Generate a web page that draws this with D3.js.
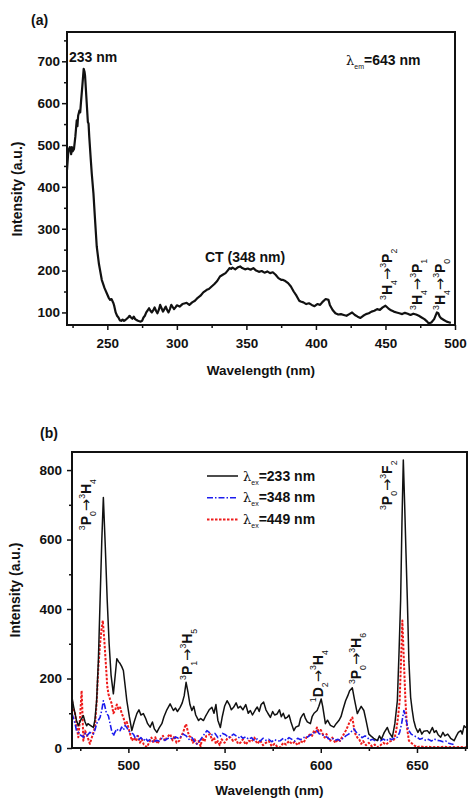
<!DOCTYPE html>
<html>
<head>
<meta charset="utf-8">
<script src="https://cdn.jsdelivr.net/npm/d3@7"></script>
<style>
  body { margin: 0; background: #fff; }
  svg text { font-family: "Liberation Sans", Arial, sans-serif; font-weight: bold; fill: #111; }
</style>
</head>
<body>
<script>
// (a) excitation spectrum, lambda_em = 643 nm : [wavelength, intensity]
let excitation = [[221,440],[222,487],[223,495],[224,478],[224.5,495],[225,485],[226,490],[227,520],[228,559],[228.5,545],[229,570],[230,583],[230.5,578],[231,600],[232,640],[233,682],[233.6,675],[234,665],[235,610],[236,555],[236.5,551],[237,520],[238,470],[238.8,432],[240,385],[241,330],[242.4,257],[244,215],[246,178],[248,158],[249.6,146],[251,135],[252,130],[253,132],[254.4,122],[255,115],[256,100],[257,92],[258,88],[259,81],[260,80],[261,83],[262,80],[263,82],[264,85],[265,88],[266,92],[267,88],[268,85],[269,90],[270,84],[271,82],[272,80],[273,79],[274,78],[275,80],[276,88],[277,92],[278,100],[279,105],[280,110],[281,104],[282,100],[283,105],[284,112],[285,104],[286,98],[287,106],[288,118],[289,110],[290,102],[291,108],[292,114],[293,106],[294,100],[295,108],[296,118],[297,113],[298,108],[299,112],[300,117],[302,114],[304,120],[306,122],[307,123],[309,118],[311,124],[313,128],[315,135],[317,140],[319,148],[321.5,154],[323,156],[325,162],[327,168],[329,175],[331,186],[333,190],[335,194],[336.5,200],[338,206],[339,204],[340,207],[342,203],[344,208],[345.5,210],[347,206],[349,203],[351,205],[353,202],[355,206],[357,200],[359,197],[361,199],[363,195],[365,198],[367,194],[369,196],[371,190],[373,182],[375,178],[376,178],[378,175],[380,170],[382,162],[384,150],[386,140],[388,128],[389,126],[391,124],[393,120],[395,122],[397,118],[399,115],[401,120],[403,118],[405,126],[407,132],[409,130],[410,118],[412,106],[414,98],[416,95],[418,96],[420,94],[422,92],[424,96],[426,100],[428,94],[430,90],[432,87],[434,92],[436,96],[438,98],[440,102],[442,104],[444,108],[446,106],[448,112],[450,116],[452,110],[454,105],[456,102],[458,100],[460,98],[462,96],[464,99],[466,97],[468,94],[470,97],[472,95],[474,92],[476,88],[478,84],[480,78],[481,74],[483,76],[485,84],[487,100],[488,98],[489,90],[490,86],[492,82],[494,78],[496,76],[497,75]];

// (b) emission spectra for three excitation wavelengths
let emission233 = [[470.7,146],[471.5,120],[472.3,99],[473,80],[474,64],[475,78],[476.6,93],[477.5,75],[478.3,64],[479,70],[480,66],[481,62],[481.8,59],[482.6,80],[483.5,136],[484.4,250],[485.3,425],[486.2,600],[487,721],[488,580],[489,425],[490,300],[491,210],[492.2,156],[493,200],[494,257],[495,248],[495.7,243],[496.5,235],[497.4,223],[498.3,180],[499.2,136],[500.5,90],[501.8,50],[503,75],[504.4,99],[505.5,110],[506.5,95],[507.8,99],[509,85],[510,70],[511.3,60],[512.5,75],[513.5,55],[514.8,45],[516,58],[517.4,70],[518.5,90],[520,110],[521.7,127],[522.5,118],[523.4,108],[524.5,115],[525.5,105],[526.9,117],[528,130],[529,150],[530,189],[531,160],[532,125],[533,108],[534,120],[535,95],[536.5,79],[537.5,85],[539,79],[540,90],[541,100],[542,110],[543.4,117],[544.5,100],[545.5,125],[546.5,80],[547.8,59],[548.8,90],[550,120],[551.3,136],[552.5,125],[553.5,110],[554.7,117],[556,130],[557,115],[558.2,120],[559.5,110],[561,125],[562.3,100],[563.4,108],[564.5,95],[566,110],[567,118],[568,105],[569,125],[570.3,132],[571.5,110],[572.5,100],[573.8,88],[575,105],[576,95],[577.3,98],[578.5,110],[579.5,90],[580.5,100],[581.5,85],[582.5,88],[583.5,95],[584.5,75],[586,50],[587,60],[588.6,64],[589.5,85],[590.5,95],[591.2,99],[592,85],[593,75],[594.6,70],[595.5,90],[596.5,100],[598.1,108],[599,120],[600.2,141],[601,120],[602.4,70],[603.5,80],[605,65],[606.8,60],[608,70],[609.4,79],[610.5,90],[611.5,110],[612.9,136],[614,150],[615,165],[616.4,173],[617.5,140],[619,99],[620,110],[621,120],[622.4,108],[623.5,80],[625,40],[626,35],[627.5,28],[629.4,21],[630.5,35],[631.5,25],[633,45],[634.6,59],[635.5,45],[637.2,31],[638.5,70],[639.8,136],[640.7,280],[641.5,425],[642.2,650],[642.9,829],[643.6,700],[644.3,560],[645,425],[645.8,250],[646.7,146],[647.5,110],[648.3,80],[649.3,59],[650.5,45],[651.5,55],[652.5,40],[653.5,48],[655.4,50],[656.5,42],[658,59],[659,45],[660,50],[661,38],[662.3,31],[663.5,45],[664.5,35],[666,40],[667.5,28],[669.3,21],[670.5,35],[671.5,45],[672.8,50],[673.5,40],[674.5,64],[675.5,58]];

let emission348 = [[470.7,99],[471.5,85],[472.3,70],[473,50],[474,45],[475,38],[476.6,31],[477.5,42],[478.5,35],[480,45],[481.8,40],[482.8,55],[483.5,70],[484.4,80],[485.3,88],[486.2,110],[487,136],[487.8,120],[488.6,100],[489.6,93],[490.5,70],[491.3,50],[492.2,35],[493,45],[494,55],[495,48],[495.7,50],[496.5,60],[497.5,52],[498.3,65],[499.2,59],[500,50],[501,45],[502.6,40],[503.5,30],[504.5,35],[505.5,25],[506.5,30],[507.8,21],[509,28],[510,20],[511.5,25],[513,16],[514.5,22],[516,20],[517.5,28],[519,22],[520,26],[521.5,30],[523,25],[524.5,32],[526,28],[527,31],[528.5,40],[530,35],[531.5,25],[533,30],[534.5,18],[535.6,12],[537,20],[538.5,32],[539.5,40],[540.8,50],[542,45],[543.5,38],[545,42],[546.5,30],[547.8,35],[549,42],[550.5,38],[552,30],[553.5,35],[554.7,40],[556,35],[557.5,30],[558.2,35],[559.5,28],[561,32],[562.5,25],[564,30],[565.5,22],[567,26],[568.5,20],[570,28],[571.5,22],[573,25],[574.5,18],[576,24],[577.5,20],[579,21],[580.5,28],[582,22],[583.5,30],[585,25],[586.5,20],[588,28],[589.5,24],[591,30],[592.9,31],[594,35],[595.5,42],[597,45],[598,50],[599,42],[600.5,38],[602,35],[603.3,31],[604.5,25],[606,28],[607.5,22],[609,25],[610,21],[611.5,28],[613,35],[614.5,40],[616,48],[617.2,55],[618.5,45],[620,38],[621.5,30],[623,35],[624.2,31],[625.5,22],[627,25],[628.5,20],[630,24],[631,21],[632.5,26],[634,20],[635.5,28],[637,24],[638.5,30],[639.8,31],[641,45],[642,70],[643.2,108],[644,90],[645,65],[645.8,50],[647,40],[648.5,35],[650.2,31],[651.5,25],[653,28],[654.5,22],[656,25],[657.5,20],[659,26],[660.5,22],[662,21],[663.5,18],[665,20],[666.5,14],[667.5,12],[669,10]];

let emission449 = [[470.7,136],[471.5,110],[472.3,99],[473.2,60],[474,31],[474.8,80],[475.7,165],[476.2,90],[476.6,21],[477.5,50],[478.3,40],[479.2,25],[480,12],[481,30],[481.8,45],[482.6,59],[483.5,130],[484.4,233],[485.3,300],[486,340],[486.7,367],[487.5,310],[488.4,233],[489,180],[489.6,156],[490.5,140],[491.4,127],[492.2,100],[493.1,108],[494,125],[494.8,112],[495.7,117],[496.5,100],[497.4,88],[498.3,70],[499.2,75],[500,59],[500.9,40],[501.8,21],[503,30],[504,20],[505,35],[506,15],[507,25],[508,10],[509.6,2],[511,18],[512,30],[513,15],[514,31],[515,12],[516.5,25],[518,35],[519,20],[520,30],[521.7,40],[523,22],[524,35],[525,15],[526.5,21],[527.5,35],[528.5,45],[529.3,60],[530,69],[530.8,50],[531.5,35],[532.5,31],[533.5,15],[534.5,25],[535.5,12],[536.5,20],[537.5,5],[538.5,30],[539.5,18],[540.5,35],[542.5,40],[543.5,22],[544.5,30],[545.5,12],[546.5,20],[547.5,8],[548.5,25],[550,15],[551.5,28],[553,31],[554.5,20],[556,25],[557,12],[558.2,15],[559.5,25],[561,10],[562.5,21],[564,18],[565.5,30],[567,12],[568.5,22],[570,8],[571.5,15],[573,20],[574.5,5],[576,12],[577.5,3],[579,2],[580.5,15],[582,10],[583.5,20],[585,12],[586.5,18],[588,8],[589.5,20],[591,15],[592.5,30],[594.6,40],[595.5,35],[596.5,50],[597.3,45],[598,59],[599,48],[600,52],[601,40],[602,30],[603,40],[604,25],[605,21],[606,30],[607.5,15],[609,25],[610,20],[611,31],[612,40],[613,50],[614,62],[615,75],[616.4,88],[617.2,60],[618,40],[619,30],[620,25],[621,12],[622,20],[623.5,8],[625,15],[626.5,5],[628,10],[629.4,2],[631,8],[632.5,15],[634,10],[635.5,18],[637,21],[638.2,25],[639.2,50],[640.2,90],[641,136],[641.7,250],[642.4,367],[643.2,250],[644,136],[644.8,60],[645.8,21],[647,15],[648.5,8],[650,2],[652,5],[654,2],[656,4],[658,2],[660,3],[662,2],[664,4],[666,2],[668,3],[670,2],[672,3],[674,2],[675.5,2]];

let xTicksA = [250, 300, 350, 400, 450, 500];
let xMinorA = [225, 275, 325, 375, 425, 475];
let yTicksA = [100, 200, 300, 400, 500, 600, 700];
let yMinorA = [150, 250, 350, 450, 550, 650, 750];
let xTicksB = [500, 550, 600, 650];
let xMinorB = [475, 525, 575, 625, 675];
let yTicksB = [0, 200, 400, 600, 800];
let yMinorB = [100, 300, 500, 700];

let legendLabels = ['233', '348', '449'];

// transition labels: parts are [text, 'sup' | 'sub' | '']
let transitionsA = [
  {at: [450, 130], parts: [['3','sup'],['H',''],['4','sub'],['\u2192',''],['3','sup'],['P',''],['2','sub']]},
  {at: [472, 106], parts: [['3','sup'],['H',''],['4','sub'],['\u2192',''],['3','sup'],['P',''],['1','sub']]},
  {at: [489, 106], parts: [['3','sup'],['H',''],['4','sub'],['\u2192',''],['3','sup'],['P',''],['0','sub']]}
];
let transitionsB = [
  {at: [485, 627], parts: [['3','sup'],['P',''],['0','sub'],['\u2192',''],['3','sup'],['H',''],['4','sub']]},
  {at: [530, 196], parts: [['3','sup'],['P',''],['1','sub'],['\u2192',''],['3','sup'],['H',''],['5','sub']]},
  {at: [600, 132], parts: [['1','sup'],['D',''],['2','sub'],['\u2192',''],['3','sup'],['H',''],['4','sub']]},
  {at: [616, 184], parts: [['3','sup'],['P',''],['0','sub'],['\u2192',''],['3','sup'],['H',''],['6','sub']]},
  {at: [641, 685], parts: [['3','sup'],['P',''],['0','sub'],['\u2192',''],['3','sup'],['F',''],['2','sub']]}
];

let w = 474, h = 801;

let svg = d3.select('body').append('svg')
    .attr('width', w)
    .attr('height', h);

let rich = (sel, parts, size) => {
  let cur = 0;
  parts.forEach(p => {
    let target = p[1] === 'sup' ? -0.45 * size : p[1] === 'sub' ? 0.35 * size : 0;
    let ts = sel.append('tspan')
      .attr('dy', target - cur)
      .style('font-size', (p[1] ? size * 0.62 : size) + 'px')
      .style('font-weight', p[1] ? 'normal' : 'bold')
      .text(p[0]);
    if (p[0] === '\u2192') {
      ts.style('font-family', '"DejaVu Sans", sans-serif')
        .style('font-weight', 'normal')
        .style('font-size', (size * 1.05) + 'px');
    }
    cur = target;
  });
};

let drawPanel = (cfg) => {
  let x = d3.scaleLinear().domain(cfg.xDom).range([cfg.left, cfg.right]);
  let y = d3.scaleLinear().domain(cfg.yDom).range([cfg.bottom, cfg.top]);

  let g = svg.append('g');

  g.append('g')
      .attr('transform', `translate(0,${cfg.bottom})`)
      .call(d3.axisBottom(x).tickValues(cfg.xTicks).tickSize(5).tickPadding(cfg.xPad).tickFormat(d3.format('d')));
  g.append('g')
      .attr('transform', `translate(0,${cfg.bottom})`)
      .call(d3.axisBottom(x).tickValues(cfg.xMinor).tickSize(3).tickFormat(''));
  g.append('g')
      .attr('transform', `translate(${cfg.left},0)`)
      .call(d3.axisLeft(y).tickValues(cfg.yTicks).tickSize(5).tickPadding(cfg.yPad).tickFormat(d3.format('d')));
  g.append('g')
      .attr('transform', `translate(${cfg.left},0)`)
      .call(d3.axisLeft(y).tickValues(cfg.yMinor).tickSize(3).tickFormat(''));

  g.selectAll('.domain').remove();
  g.selectAll('.tick line').attr('stroke', '#111').attr('stroke-width', 1.5);
  g.selectAll('.tick text').style('font-size', '13.5px').attr('fill', '#111');

  let line = d3.line().x(d => x(d[0])).y(d => y(d[1]));

  cfg.series.forEach(s => {
    g.append('path')
      .datum(s.data)
      .attr('fill', 'none')
      .attr('stroke', s.color)
      .attr('stroke-width', s.width)
      .attr('stroke-dasharray', s.dash)
      .attr('stroke-linejoin', 'round')
      .attr('d', line);
  });

  g.append('rect')
      .attr('x', cfg.left)
      .attr('y', cfg.top)
      .attr('width', cfg.right - cfg.left)
      .attr('height', cfg.bottom - cfg.top)
      .attr('fill', 'none')
      .attr('stroke', '#111')
      .attr('stroke-width', 2);

  g.append('text')
      .attr('x', (cfg.left + cfg.right) / 2)
      .attr('y', cfg.xTitleY)
      .attr('text-anchor', 'middle')
      .style('font-size', '13.5px')
      .text('Wavelength (nm)');

  g.append('text')
      .attr('transform', `translate(${cfg.yTitleX},${cfg.yTitleY}) rotate(-90)`)
      .attr('text-anchor', 'middle')
      .style('font-size', '14px')
      .text('Intensity (a.u.)');

  g.append('text')
      .attr('x', cfg.tagX)
      .attr('y', cfg.tagY)
      .style('font-size', '14px')
      .text(cfg.tag);

  cfg.transitions.forEach((t, i) => {
    let lbl = g.append('text')
        .attr('transform', `translate(${x(t.at[0]) + cfg.labelShift[i]},${y(t.at[1])}) rotate(-90)`)
        .style('font-size', '14px');
    rich(lbl, t.parts, 14);
  });

  return {x, y, g};
};

let a = drawPanel({
  left: 67, right: 455, top: 32, bottom: 325,
  xDom: [221, 500], yDom: [70, 770],
  xTicks: xTicksA, xMinor: xMinorA, yTicks: yTicksA, yMinor: yMinorA,
  xPad: 8, yPad: 2,
  xTitleY: 375, yTitleX: 22, yTitleY: 189,
  tag: '(a)', tagX: 31, tagY: 25,
  series: [{data: excitation, color: '#111', width: 2.2, dash: null}],
  transitions: transitionsA, labelShift: [6.5, 6, 5.5]
});

a.g.append('text').attr('x', 69).attr('y', 62).style('font-size', '14px').text('233 nm');
a.g.append('text').attr('x', 205).attr('y', 262).style('font-size', '14px').text('CT (348 nm)');
let em = a.g.append('text').attr('x', 346).attr('y', 65).style('font-size', '14px');
em.append('tspan').style('font-weight', 'normal').style('font-family', '"DejaVu Serif", serif').style('font-size', '13px').text('\u03bb');
em.append('tspan').attr('dy', 4).style('font-weight', 'normal').style('font-size', '7px').text('em');
em.append('tspan').attr('dy', -4).text('=643 nm');

let b = drawPanel({
  left: 72, right: 467, top: 452, bottom: 748,
  xDom: [470.7, 676], yDom: [0, 852],
  xTicks: xTicksB, xMinor: xMinorB, yTicks: yTicksB, yMinor: yMinorB,
  xPad: 7, yPad: 5,
  xTitleY: 795, yTitleX: 20, yTitleY: 590,
  tag: '(b)', tagX: 40, tagY: 438,
  series: [
    {data: emission449, color: '#ee1c1c', width: 2, dash: '2.5,1.5'},
    {data: emission348, color: '#1c1cee', width: 1.6, dash: '6,2,1.5,2'},
    {data: emission233, color: '#111', width: 1.5, dash: null}
  ],
  transitions: transitionsB, labelShift: [-8.5, 6, 2, 9.4, -7.7]
});

let legendStyles = [
  {color: '#111', width: 1.5, dash: null},
  {color: '#1c1cee', width: 1.6, dash: '6,2,1.5,2'},
  {color: '#ee1c1c', width: 2, dash: '2.5,1.5'}
];

legendLabels.forEach((lab, i) => {
  let ly = 476 + i * 21.8;
  b.g.append('line')
    .attr('x1', 207).attr('x2', 238)
    .attr('y1', ly).attr('y2', ly)
    .attr('stroke', legendStyles[i].color)
    .attr('stroke-width', legendStyles[i].width)
    .attr('stroke-dasharray', legendStyles[i].dash);
  let t = b.g.append('text').attr('x', 243).attr('y', ly + 4.5).style('font-size', '14px');
  t.append('tspan').style('font-weight', 'normal').style('font-family', '"DejaVu Serif", serif').style('font-size', '13px').text('\u03bb');
  t.append('tspan').attr('dy', 4).style('font-weight', 'normal').style('font-size', '7px').text('ex');
  t.append('tspan').attr('dy', -4).text('=' + lab + ' nm');
});
</script>
</body>
</html>
